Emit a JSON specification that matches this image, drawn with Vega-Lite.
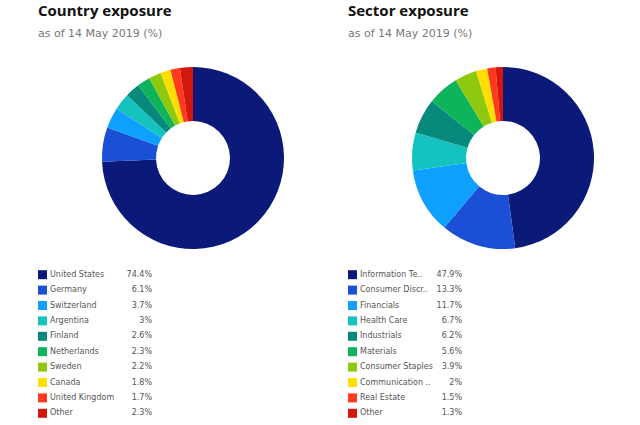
{
  "$schema": "https://vega.github.io/schema/vega-lite/v6.json",
  "background": "white",
  "padding": {"left": 38, "top": 4, "right": 0, "bottom": 0},
  "datasets": {
    "country": [
      {"rank": 1, "name": "United States", "value": 74.4, "pct": "74.4%"},
      {"rank": 2, "name": "Germany", "value": 6.1, "pct": "6.1%"},
      {"rank": 3, "name": "Switzerland", "value": 3.7, "pct": "3.7%"},
      {"rank": 4, "name": "Argentina", "value": 3, "pct": "3%"},
      {"rank": 5, "name": "Finland", "value": 2.6, "pct": "2.6%"},
      {"rank": 6, "name": "Netherlands", "value": 2.3, "pct": "2.3%"},
      {"rank": 7, "name": "Sweden", "value": 2.2, "pct": "2.2%"},
      {"rank": 8, "name": "Canada", "value": 1.8, "pct": "1.8%"},
      {"rank": 9, "name": "United Kingdom", "value": 1.7, "pct": "1.7%"},
      {"rank": 10, "name": "Other", "value": 2.3, "pct": "2.3%"}
    ],
    "sector": [
      {"rank": 1, "name": "Information Te..", "value": 47.9, "pct": "47.9%"},
      {"rank": 2, "name": "Consumer Discr..", "value": 13.3, "pct": "13.3%"},
      {"rank": 3, "name": "Financials", "value": 11.7, "pct": "11.7%"},
      {"rank": 4, "name": "Health Care", "value": 6.7, "pct": "6.7%"},
      {"rank": 5, "name": "Industrials", "value": 6.2, "pct": "6.2%"},
      {"rank": 6, "name": "Materials", "value": 5.6, "pct": "5.6%"},
      {"rank": 7, "name": "Consumer Staples", "value": 3.9, "pct": "3.9%"},
      {"rank": 8, "name": "Communication ..", "value": 2, "pct": "2%"},
      {"rank": 9, "name": "Real Estate", "value": 1.5, "pct": "1.5%"},
      {"rank": 10, "name": "Other", "value": 1.3, "pct": "1.3%"}
    ]
  },
  "spacing": 0,
  "resolve": {"scale": {"color": "independent", "x": "independent", "y": "independent"}},
  "hconcat": [
    {
      "title": {"text": "Country exposure", "subtitle": "as of 14 May 2019 (%)"},
      "data": {"name": "country"},
      "spacing": 0,
      "vconcat": [
        {
          "width": 310, "height": 218,
          "mark": {"type": "arc", "outerRadius": 91, "innerRadius": 37},
          "encoding": {
            "theta": {"field": "value", "type": "quantitative", "stack": true},
            "order": {"field": "rank", "type": "quantitative"},
            "color": {"field": "name", "type": "nominal", "legend": null,
              "scale": {"domain": ["United States", "Germany", "Switzerland", "Argentina", "Finland", "Netherlands", "Sweden", "Canada", "United Kingdom", "Other"],
                "range": ["#0b1a78", "#1a4fd6", "#0ea0ff", "#14c3bf", "#078a7c", "#0fb35b", "#8ec90f", "#ffdf00", "#ff3a1e", "#d4170b"]}}
          }
        },
        {
          "width": 310, "height": 154,
          "encoding": {
            "y": {"field": "name", "type": "nominal", "sort": {"field": "rank"}, "axis": null, "scale": {"paddingInner": 0, "paddingOuter": 0}}
          },
          "layer": [
            {
              "mark": {"type": "square", "size": 81, "filled": true, "opacity": 1},
              "encoding": {
                "x": {"datum": 4.5, "type": "quantitative", "scale": {"domain": [0, 310], "nice": false, "zero": false}, "axis": null},
                "color": {"field": "name", "type": "nominal", "legend": null,
                  "scale": {"domain": ["United States", "Germany", "Switzerland", "Argentina", "Finland", "Netherlands", "Sweden", "Canada", "United Kingdom", "Other"],
                    "range": ["#0b1a78", "#1a4fd6", "#0ea0ff", "#14c3bf", "#078a7c", "#0fb35b", "#8ec90f", "#ffdf00", "#ff3a1e", "#d4170b"]}}
              }
            },
            {
              "mark": {"type": "text", "align": "left", "baseline": "middle", "font": "DejaVu Sans", "fontSize": 8, "color": "#555"},
              "encoding": {"x": {"datum": 12, "type": "quantitative"}, "text": {"field": "name"}}
            },
            {
              "mark": {"type": "text", "align": "right", "baseline": "middle", "font": "DejaVu Sans", "fontSize": 8, "color": "#555"},
              "encoding": {"x": {"datum": 114, "type": "quantitative"}, "text": {"field": "pct"}}
            }
          ]
        }
      ]
    },
    {
      "title": {"text": "Sector exposure", "subtitle": "as of 14 May 2019 (%)"},
      "data": {"name": "sector"},
      "spacing": 0,
      "vconcat": [
        {
          "width": 310, "height": 218,
          "mark": {"type": "arc", "outerRadius": 91, "innerRadius": 37},
          "encoding": {
            "theta": {"field": "value", "type": "quantitative", "stack": true},
            "order": {"field": "rank", "type": "quantitative"},
            "color": {"field": "name", "type": "nominal", "legend": null,
              "scale": {"domain": ["Information Te..", "Consumer Discr..", "Financials", "Health Care", "Industrials", "Materials", "Consumer Staples", "Communication ..", "Real Estate", "Other"],
                "range": ["#0b1a78", "#1a4fd6", "#0ea0ff", "#14c3bf", "#078a7c", "#0fb35b", "#8ec90f", "#ffdf00", "#ff3a1e", "#d4170b"]}}
          }
        },
        {
          "width": 310, "height": 154,
          "encoding": {
            "y": {"field": "name", "type": "nominal", "sort": {"field": "rank"}, "axis": null, "scale": {"paddingInner": 0, "paddingOuter": 0}}
          },
          "layer": [
            {
              "mark": {"type": "square", "size": 81, "filled": true, "opacity": 1},
              "encoding": {
                "x": {"datum": 4.5, "type": "quantitative", "scale": {"domain": [0, 310], "nice": false, "zero": false}, "axis": null},
                "color": {"field": "name", "type": "nominal", "legend": null,
                  "scale": {"domain": ["Information Te..", "Consumer Discr..", "Financials", "Health Care", "Industrials", "Materials", "Consumer Staples", "Communication ..", "Real Estate", "Other"],
                    "range": ["#0b1a78", "#1a4fd6", "#0ea0ff", "#14c3bf", "#078a7c", "#0fb35b", "#8ec90f", "#ffdf00", "#ff3a1e", "#d4170b"]}}
              }
            },
            {
              "mark": {"type": "text", "align": "left", "baseline": "middle", "font": "DejaVu Sans", "fontSize": 8, "color": "#555"},
              "encoding": {"x": {"datum": 12, "type": "quantitative"}, "text": {"field": "name"}}
            },
            {
              "mark": {"type": "text", "align": "right", "baseline": "middle", "font": "DejaVu Sans", "fontSize": 8, "color": "#555"},
              "encoding": {"x": {"datum": 114, "type": "quantitative"}, "text": {"field": "pct"}}
            }
          ]
        }
      ]
    }
  ],
  "config": {
    "view": {"stroke": null},
    "title": {"anchor": "start", "font": "Open Sans", "fontSize": 15, "fontWeight": "bold", "color": "#111",
      "subtitleFont": "DejaVu Sans", "subtitleFontSize": 11, "subtitleColor": "#777", "subtitlePadding": 9, "offset": 10}
  }
}
